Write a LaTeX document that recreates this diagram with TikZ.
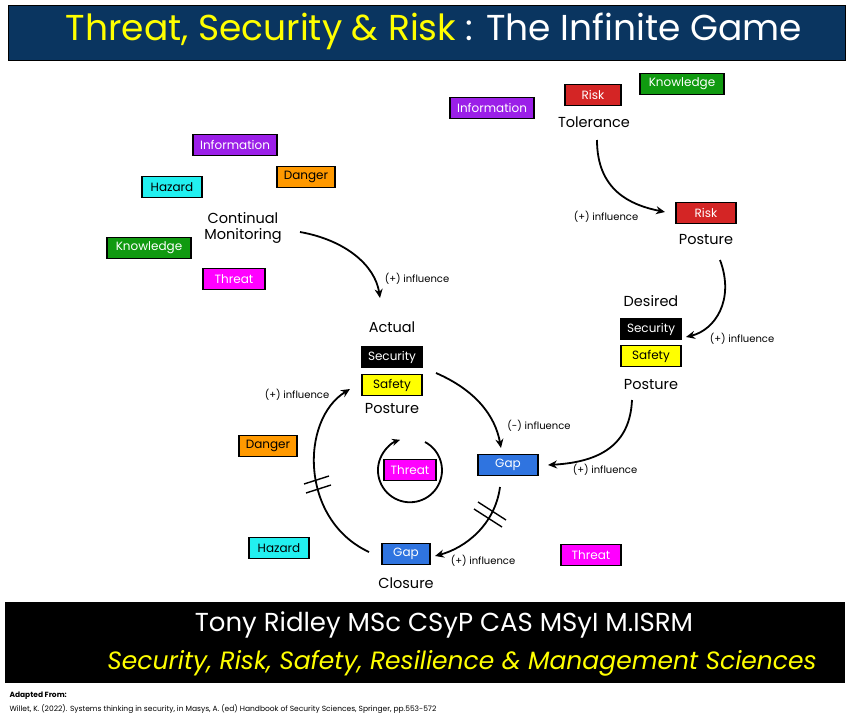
\documentclass[tikz,border=0pt]{standalone}
\usepackage{fontspec}
\setmainfont{Poppins}
\usetikzlibrary{arrows.meta}
\definecolor{titlebg}{HTML}{0A3560}
\definecolor{cpurple}{HTML}{9B1FE8}
\definecolor{ccyan}{HTML}{22F0F0}
\definecolor{corange}{HTML}{FF9900}
\definecolor{cgreen}{HTML}{109A10}
\definecolor{cmag}{HTML}{FF00FF}
\definecolor{cred}{HTML}{D42525}
\definecolor{cblue}{HTML}{2F74E0}
\definecolor{cyel}{HTML}{FFFF00}
\begin{document}
\begin{tikzpicture}[x=1pt,y=-1pt,
 tag/.style={draw=black,line width=1.2pt,minimum height=21pt,inner sep=1pt,font=\fontsize{12}{14}\selectfont},
 lbl/.style={font=\fontsize{14.5}{16}\selectfont,align=center},
 infl/.style={font=\fontsize{10}{12}\selectfont},
 arr/.style={line width=1.8pt,-{Stealth[length=9pt,width=8pt]}},
 brk/.style={line width=1.4pt}]
\useasboundingbox (0,0) rectangle (851,720);
% title
\node[draw=black,fill=titlebg,minimum width=837pt,minimum height=55pt] (title) at (426.5,32.5) {};
\node[font=\fontsize{36}{40}\selectfont] (tt) at (434,31) {\color{cyel}Threat, Security \& Risk \color{white}: The Infinite Game};
% bottom bar
\node[fill=black,minimum width=840pt,minimum height=81pt] (bar) at (425,642.5) {};
\node[white,font=\fontsize{26}{30}\selectfont] (name) at (444,625) {Tony Ridley MSc CSyP CAS MSyI M.ISRM};
\node[cyel,font=\fontsize{25}{30}\selectfont\itshape] (sub) at (462,663) {Security, Risk, Safety, Resilience \& Management Sciences};
\node[anchor=west,font=\fontsize{7.5}{9}\selectfont\bfseries] (af) at (6,696) {Adapted From:};
\node[anchor=west,font=\fontsize{7.5}{9}\selectfont] (ref) at (6,709) {Willet, K. (2022). Systems thinking in security, in Masys, A. (ed) Handbook of Security Sciences, Springer, pp.553-572};
% left cluster
\node[tag,fill=cpurple,text=white,minimum width=84pt] (info1) at (235,145) {Information};
\node[tag,fill=ccyan,minimum width=60pt] (haz1) at (172,187) {Hazard};
\node[tag,fill=corange,minimum width=58pt] (dan1) at (306,177) {Danger};
\node[tag,fill=cgreen,text=white,minimum width=84pt] (kn1) at (149,248) {Knowledge};
\node[tag,fill=cmag,text=white,minimum width=62pt] (thr1) at (234,279) {Threat};
\node[lbl] (cm) at (243,228) {Continual\\Monitoring};
% right top
\node[tag,fill=cpurple,text=white,minimum width=84pt] (info2) at (492,108) {Information};
\node[tag,fill=cred,text=white,minimum width=56pt] (risk1) at (593,95) {Risk};
\node[tag,fill=cgreen,text=white,minimum width=84pt] (kn2) at (682,84) {Knowledge};
\node[lbl] (tol) at (594,122) {Tolerance};
\node[tag,fill=cred,text=white,minimum width=60pt] (risk2) at (706,213) {Risk};
\node[lbl] (rpost) at (706,240) {Posture};
\node[lbl] (des) at (651,301) {Desired};
\node[tag,fill=black,text=white,minimum width=60pt] (dsec) at (651,329) {Security};
\node[tag,fill=cyel,minimum width=60pt] (dsaf) at (651,356) {Safety};
\node[lbl] (dpost) at (651,385) {Posture};
% actual
\node[lbl] (act) at (392,327) {Actual};
\node[tag,fill=black,text=white,minimum width=60pt] (asec) at (392,357) {Security};
\node[tag,fill=cyel,minimum width=60pt] (asaf) at (392,385) {Safety};
\node[lbl] (apost) at (392,409) {Posture};
\node[tag,fill=cblue,text=white,minimum width=60pt] (gap1) at (508,465) {Gap};
\node[tag,fill=cblue,text=white,minimum width=48pt] (gap2) at (406,554) {Gap};
\node[lbl] (clo) at (406,583) {Closure};
\node[tag,fill=cmag,text=white,minimum width=52pt] (thr2) at (410,470) {Threat};
\node[tag,fill=corange,minimum width=58pt] (dan2) at (268,446) {Danger};
\node[tag,fill=ccyan,minimum width=60pt] (haz2) at (279,548) {Hazard};
\node[tag,fill=cmag,text=white,minimum width=60pt] (thr3) at (591,555) {Threat};
% arrows
\coordinate (a1s) at (300,232); \coordinate (a1e) at (380,298);
\draw[arr] (a1s) .. controls (345,240) and (375,265) .. (a1e);
\node[infl] (l1) at (417,279) {(+) influence};
\coordinate (a2s) at (597,140); \coordinate (a2e) at (665,212);
\draw[arr] (a2s) .. controls (597,190) and (630,205) .. (a2e);
\node[infl] (l2) at (606,217) {(+) influence};
\coordinate (a3s) at (720,260); \coordinate (a3e) at (686,337);
\draw[arr] (a3s) .. controls (735,300) and (715,330) .. (a3e);
\node[infl] (l3) at (742,339) {(+) influence};
\coordinate (a4s) at (632,400); \coordinate (a4e) at (548,465);
\draw[arr] (a4s) .. controls (630,445) and (600,462) .. (a4e);
\node[infl] (l4) at (605,470) {(+) influence};
\coordinate (a5s) at (436,373); \coordinate (a5e) at (501,448);
\draw[arr] (a5s) .. controls (475,390) and (495,415) .. (a5e);
\node[infl] (l5) at (539,426) {(-) influence};
\coordinate (a6s) at (500,487); \coordinate (a6e) at (435,556);
\draw[arr] (a6s) .. controls (495,525) and (465,548) .. (a6e);
\node[infl] (l6) at (483,561) {(+) influence};
\draw[brk] (478,502) -- (506,520) (474,509) -- (502,527);
\coordinate (a7s) at (369,552); \coordinate (a7e) at (350,389);
\draw[arr] (a7s) .. controls (300,520) and (300,420) .. (a7e);
\node[infl] (l7) at (297,395) {(+) influence};
\draw[brk] (304,484) -- (329,476) (306,493) -- (331,485);
\draw[line width=1.8pt,-{Stealth[length=8pt,width=7pt]}] (thr2.center) ++(15,-28) arc[start angle=-62,end angle=252,radius=32];
\end{tikzpicture}
\end{document}
